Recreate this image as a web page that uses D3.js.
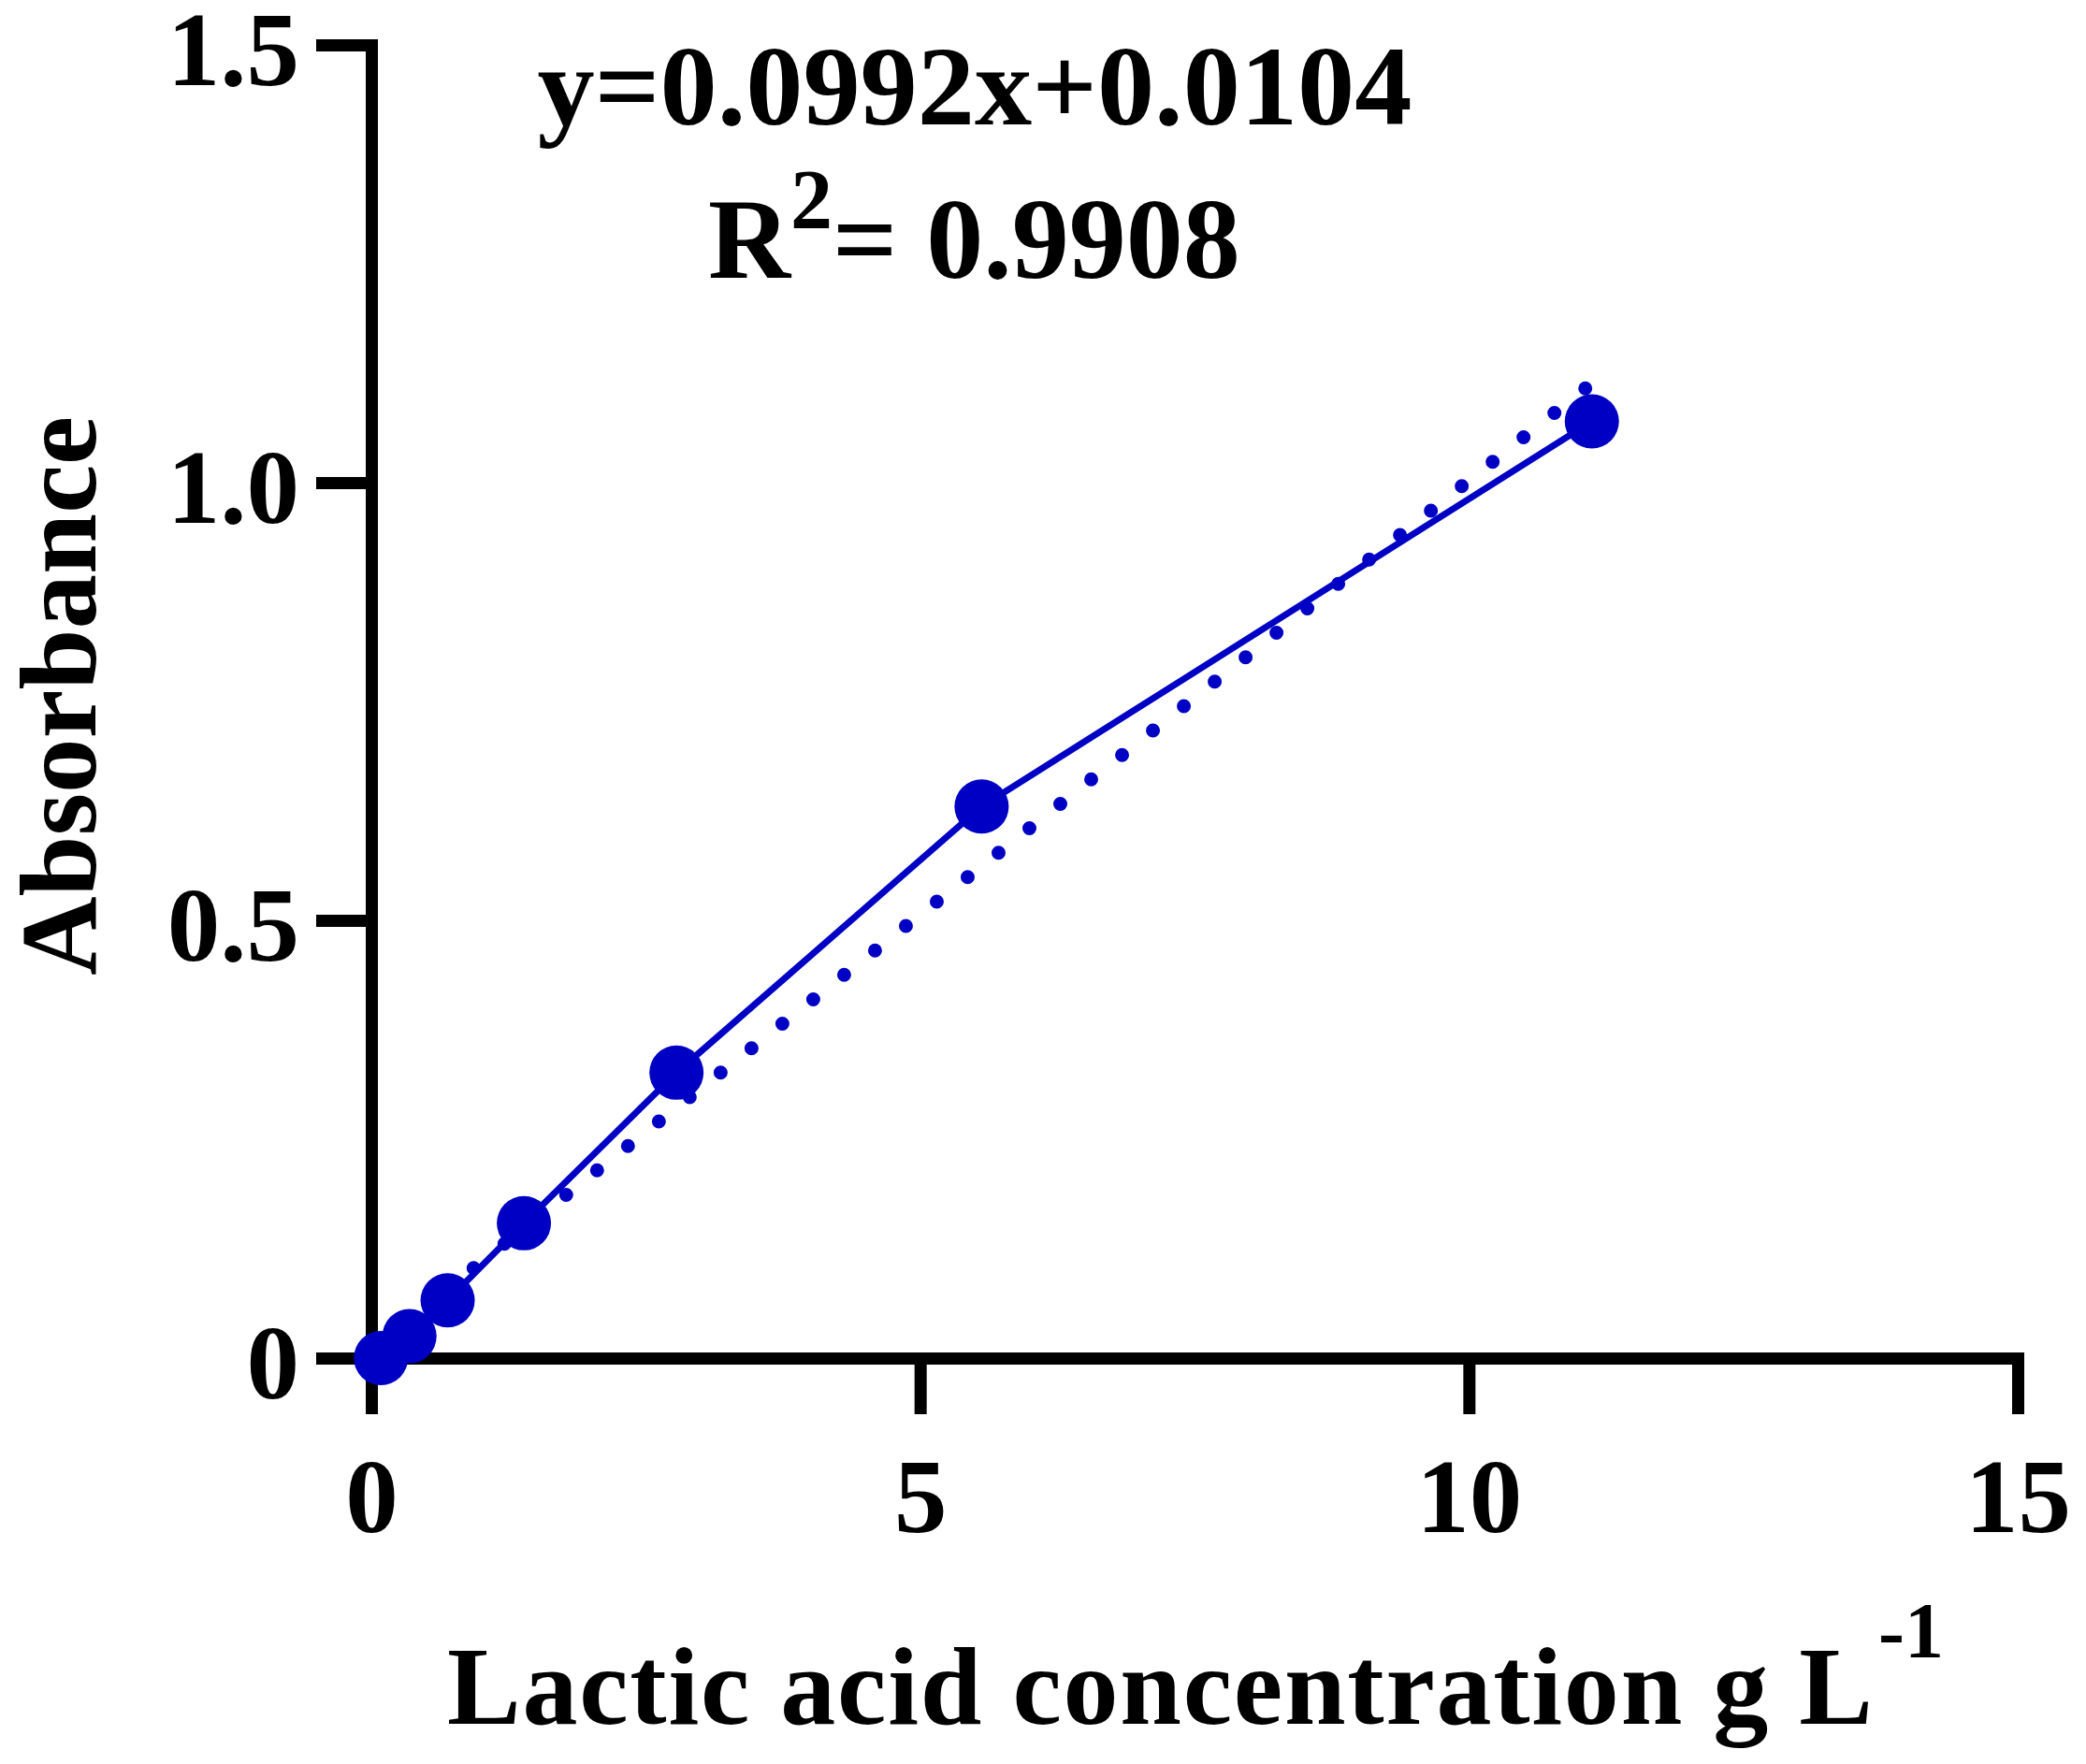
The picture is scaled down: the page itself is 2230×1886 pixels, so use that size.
<!DOCTYPE html>
<html>
<head>
<meta charset="utf-8">
<script src="https://cdn.jsdelivr.net/npm/d3@7"></script>
<style>
  html, body { margin: 0; padding: 0; background: #fff; }
  svg text { font-family: "Liberation Serif", "Times New Roman", serif; font-weight: bold; fill: #000; }
</style>
</head>
<body>
<svg id="chart"></svg>
<script>
// lactic acid standard curve
var concentration = [0.087, 0.347, 0.695, 1.39, 2.78, 5.56, 11.12],
    absorbance = [0.0, 0.025, 0.066, 0.154, 0.326, 0.630, 1.070],
    xTicks = [0, 5, 10, 15],
    yTicks = [0, 0.5, 1.0, 1.5],
    fitSlope = 0.0992,
    fitIntercept = 0.0104,
    equationLabel = 'y=0.0992x+0.0104',
    r2Value = '= 0.9908';

var width = 2230,
    height = 1886,
    blue = '#0000c4';

var svg = d3.select('#chart').attr('width', width).attr('height', height);

var x = d3.scaleLinear().domain([0, 15]).range([397, 2157]),
    y = d3.scaleLinear().domain([0, 1.5]).range([1452, 48]);

var points = concentration.map(function(c, i) { return [c, absorbance[i]]; });

// axes
var xAxis = d3.axisBottom(x).tickValues(xTicks).tickSize(60).tickSizeOuter(0).tickPadding(46)
      .tickFormat(d3.format('d')),
    yAxis = d3.axisLeft(y).tickValues(yTicks).tickSize(59).tickSizeOuter(0).tickPadding(18)
      .tickFormat(function(d) { return d === 0 ? '0' : d3.format('.1f')(d); });

function styleAxis(g) {
  g.select('.domain').attr('stroke', '#000').attr('stroke-width', 13).attr('stroke-linecap', 'square');
  g.selectAll('.tick line').attr('stroke', '#000').attr('stroke-width', 13);
  g.selectAll('.tick text').attr('fill', '#000')
    .style('font-family', '"Liberation Serif", "Times New Roman", serif')
    .style('font-weight', 'bold');
}

svg.append('g').attr('transform', 'translate(0,' + y(0) + ')').call(xAxis).call(styleAxis)
  .selectAll('.tick text').attr('font-size', 113);

svg.append('g').attr('transform', 'translate(' + x(0) + ',0)').call(yAxis).call(styleAxis)
  .selectAll('.tick text').attr('font-size', 113).attr('dy', '0.38em');

// fitted line (dotted)
var xMin = d3.min(concentration), xMax = d3.max(concentration);
var fit = [xMin, xMax].map(function(c) { return [c, fitSlope * c + fitIntercept]; });

var line = d3.line().x(function(d) { return x(d[0]); }).y(function(d) { return y(d[1]); });

svg.append('path')
  .datum(fit)
  .attr('d', line)
  .attr('fill', 'none')
  .attr('stroke', blue)
  .attr('stroke-width', 15)
  .attr('stroke-linecap', 'round')
  .attr('stroke-dasharray', '0 42.1');

// data line and points
svg.append('path')
  .datum(points)
  .attr('d', line)
  .attr('fill', 'none')
  .attr('stroke', blue)
  .attr('stroke-width', 7);

svg.selectAll('circle.pt')
  .data(points)
  .enter().append('circle')
  .attr('class', 'pt')
  .attr('cx', function(d) { return x(d[0]); })
  .attr('cy', function(d) { return y(d[1]); })
  .attr('r', 29)
  .attr('fill', blue);

// equation
svg.append('text')
  .attr('x', 1042).attr('y', 133)
  .attr('text-anchor', 'middle')
  .attr('font-size', 120)
  .attr('textLength', 935)
  .attr('lengthAdjust', 'spacingAndGlyphs')
  .text(equationLabel);

var r2 = svg.append('text').attr('x', 757).attr('y', 297).attr('font-size', 122);
r2.append('tspan').text('R');
r2.append('tspan').attr('font-size', 90).attr('dy', -53).text('2');
r2.append('tspan').attr('dy', 53).text(r2Value);

// axis titles
svg.append('text')
  .attr('transform', 'translate(102,744) rotate(-90)')
  .attr('text-anchor', 'middle')
  .attr('font-size', 117)
  .text('Absorbance');

svg.append('text')
  .attr('x', 478).attr('y', 1843)
  .attr('font-size', 118)
  .attr('textLength', 1524)
  .attr('lengthAdjust', 'spacing')
  .text('Lactic acid concentration g L');

svg.append('text')
  .attr('x', 2008).attr('y', 1772)
  .attr('font-size', 84)
  .text('-1');
</script>
</body>
</html>
